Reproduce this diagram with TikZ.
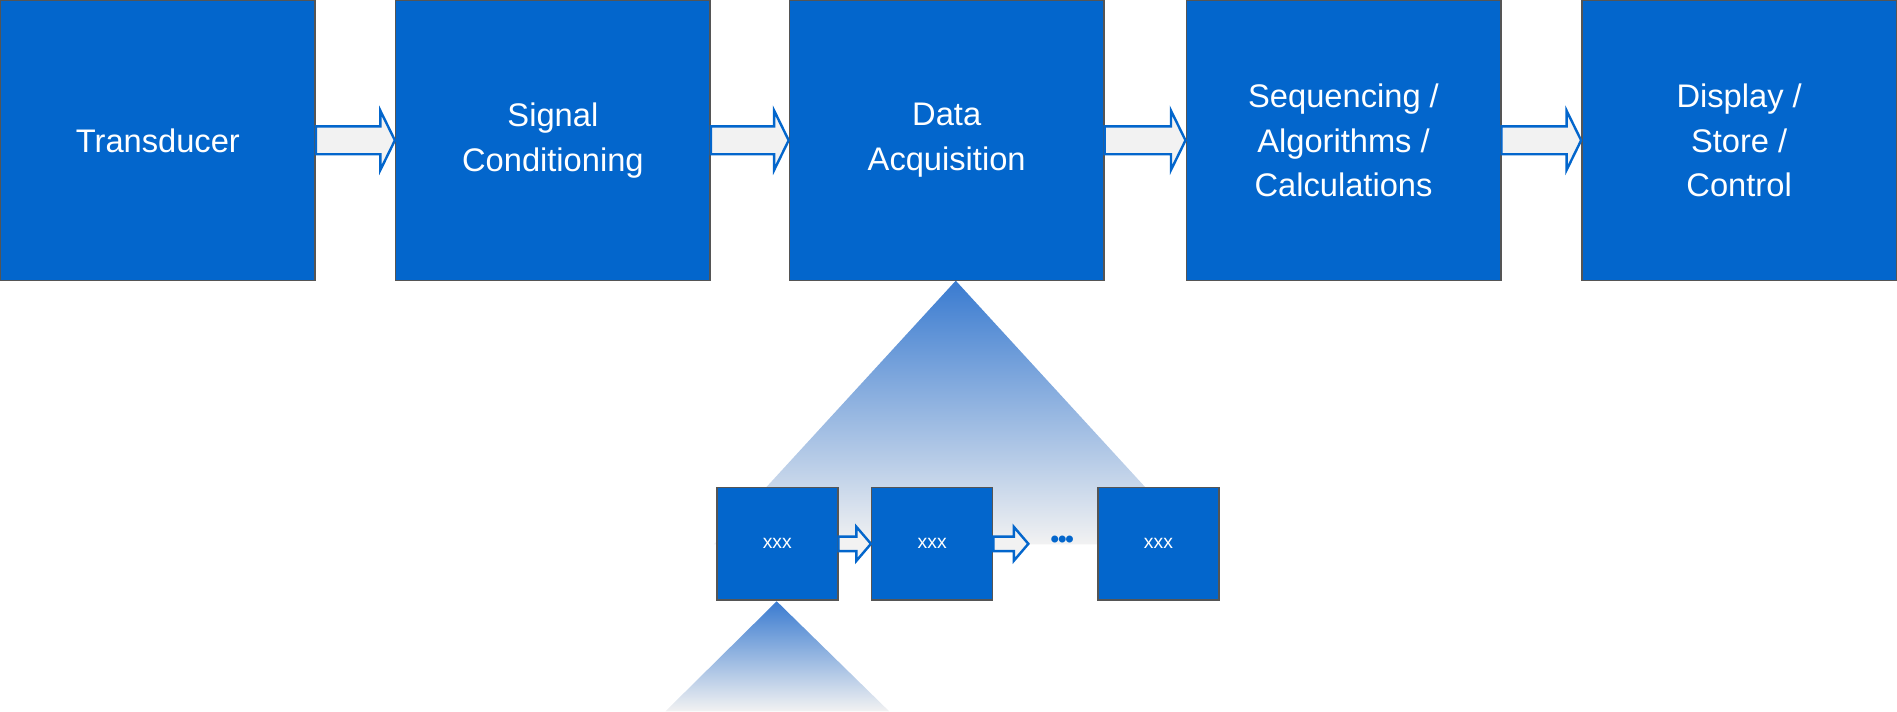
\documentclass[tikz,border=0pt]{standalone}
\usepackage{fontspec}
\setmainfont{Liberation Sans}
\usetikzlibrary{calc,positioning}
\definecolor{boxblue}{HTML}{0366CC}
\definecolor{boxline}{HTML}{555555}
\definecolor{pale}{HTML}{F2F2F2}
\definecolor{shadeblue}{HTML}{3A7BD0}
\tikzset{
  stage/.style={rectangle, fill=boxblue, draw=boxline, line width=0.6pt, text=white,
    minimum width=130pt, minimum height=116pt, align=center, inner sep=0pt,
    font=\fontsize{13.5}{18.5}\selectfont},
  substage/.style={rectangle, fill=boxblue, draw=boxline, line width=0.6pt, text=white,
    minimum width=50pt, minimum height=46.5pt, inner sep=0pt, font=\fontsize{8}{9}\selectfont},
  blockarrow/.style={fill=pale, draw=boxblue, line width=1pt, line join=miter}
}
% block arrow from one node to the next: #3 body half, #4 head half, #5 head length
\newcommand\flowarrow[5]{%
  \draw[blockarrow] let \p1=(#1.east), \p2=(#2.west) in
    (\x1,\y1+#3) -- (\x2-#5,\y1+#3) -- (\x2-#5,\y1+#4) -- (\x2,\y1)
    -- (\x2-#5,\y1-#4) -- (\x2-#5,\y1-#3) -- (\x1,\y1-#3) -- cycle;}
\begin{document}
\begin{tikzpicture}[x=0.5pt,y=-0.5pt]
\useasboundingbox (0,0) rectangle (1568,588);
% shaded zoom cones
\shade[top color=shadeblue, bottom color=pale] (790,232) -- (590,450) -- (990,450) -- cycle;
\shade[top color=shadeblue, bottom color=pale] (642,497) -- (550,588) -- (735,588) -- cycle;
% top row
\node[stage] (trans) at (130.5,116) {Transducer};
\node[stage] (cond) at (457,116) {Signal\\Conditioning};
\node[stage] (daq) at (782.5,116) {Data\\Acquisition};
\node[stage] (calc) at (1110.5,116) {Sequencing /\\Algorithms /\\Calculations};
\node[stage] (disp) at (1437.5,116) {Display /\\Store /\\Control};
\flowarrow{trans}{cond}{5.75pt}{12.25pt}{6pt}
\flowarrow{cond}{daq}{5.75pt}{12.25pt}{6pt}
\flowarrow{daq}{calc}{5.75pt}{12.25pt}{6pt}
\flowarrow{calc}{disp}{5.75pt}{12.25pt}{6pt}
% sub steps
\node[substage] (s1) at (642.5,449.5) {xxx};
\node[substage] (s2) at (770.5,449.5) {xxx};
\node[substage] (s3) at (957.5,449.5) {xxx};
\node[text=boxblue, inner sep=0pt, font=\bfseries\fontsize{10}{10}\selectfont] (dots) at (878,448) {\textbullet\kern-0.5pt\textbullet\kern-0.5pt\textbullet};
\coordinate (dotsw) at (850,449.5);
\flowarrow{s1}{s2}{3pt}{7pt}{6pt}
\draw[blockarrow] let \p1=(s2.east), \p2=(dotsw) in
  (\x1,\y1+3pt) -- (\x2-6pt,\y1+3pt) -- (\x2-6pt,\y1+7pt) -- (\x2,\y1)
  -- (\x2-6pt,\y1-7pt) -- (\x2-6pt,\y1-3pt) -- (\x1,\y1-3pt) -- cycle;
\end{tikzpicture}
\end{document}
